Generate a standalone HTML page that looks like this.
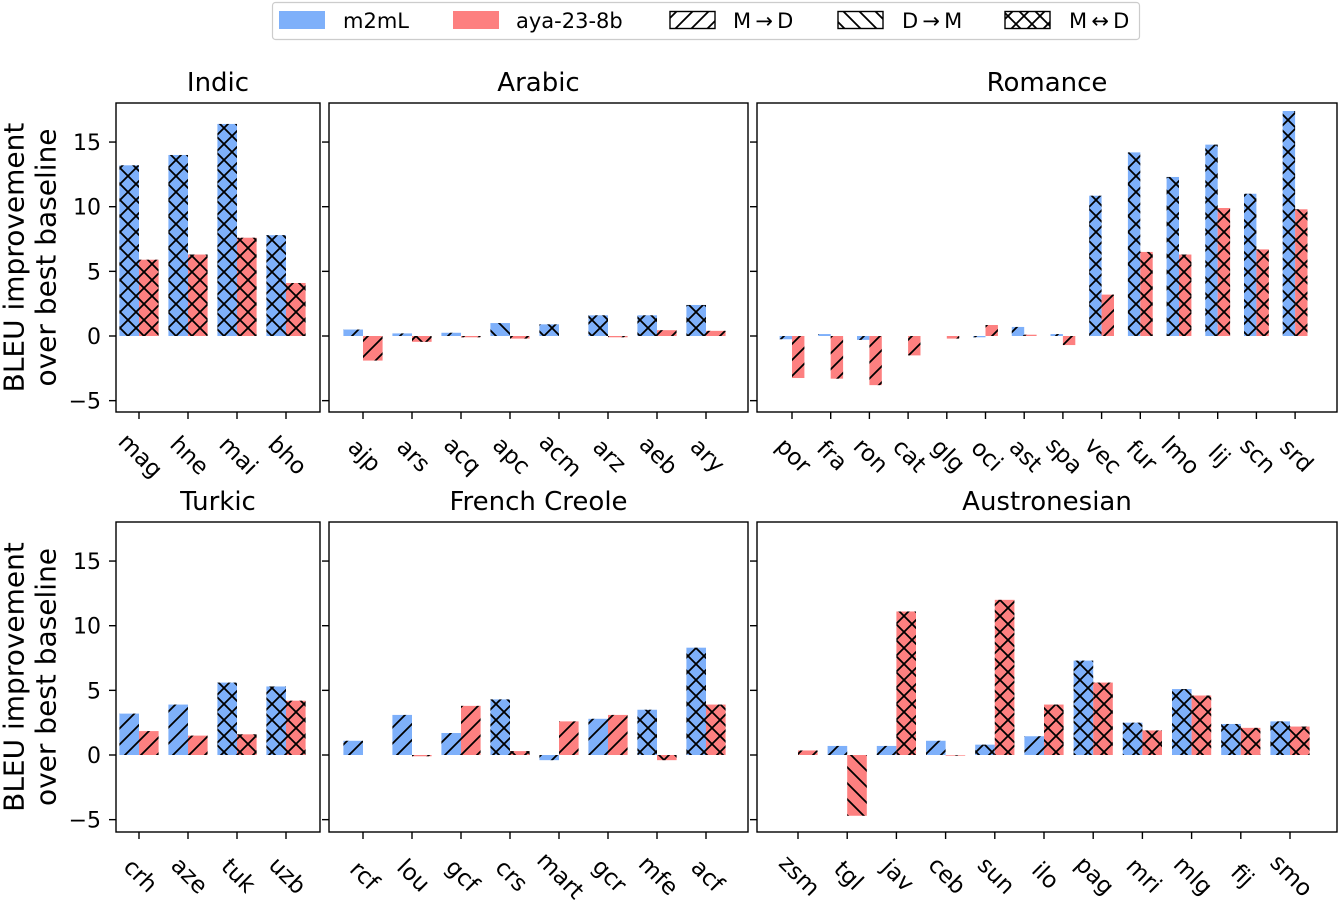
<!DOCTYPE html>
<html><head><meta charset="utf-8">
<style>
html,body{margin:0;padding:0;background:#fff;}
svg{display:block;font-family:"DejaVu Sans","Liberation Sans",sans-serif;}
</style></head>
<body>
<svg id="s" xmlns="http://www.w3.org/2000/svg" width="1341" height="901" viewBox="0 0 1341 901">
<defs>
<pattern id="pf" patternUnits="userSpaceOnUse" width="16" height="16">
<path d="M-2,18 L18,-2 M-10,10 L10,-10 M6,26 L26,6" stroke="#000" stroke-width="1.8"/>
</pattern>
<pattern id="pb" patternUnits="userSpaceOnUse" width="16" height="16">
<path d="M-2,-2 L18,18 M-10,6 L10,26 M6,-10 L26,10" stroke="#000" stroke-width="1.8"/>
</pattern>
<pattern id="px" patternUnits="userSpaceOnUse" width="16" height="16">
<path d="M-2,18 L18,-2 M-10,10 L10,-10 M6,26 L26,6 M-2,-2 L18,18 M-10,6 L10,26 M6,-10 L26,10" stroke="#000" stroke-width="1.8"/>
</pattern>
</defs>
<g id="g"></g>
</svg>
<script>
var B="#7eb0fa",R="#fd8080";
var panels=[
 {t:"Indic",x0:116,x1:320,row:0,c0:139,sp:49,bw:19.6,labels:["mag","hne","mai","bho"],
  d:[[13.2,"x",5.9,"x"],[14.0,"x",6.3,"x"],[16.4,"x",7.6,"x"],[7.8,"x",4.1,"x"]]},
 {t:"Arabic",x0:329,x1:748,row:0,c0:363,sp:49,bw:19.6,labels:["ajp","ars","acq","apc","acm","arz","aeb","ary"],
  d:[[0.5,"f",-1.9,"f"],[0.2,"f",-0.45,"x"],[0.25,"f",-0.1,"f"],[1.0,"b",-0.2,"f"],[0.9,"x",0,"x"],[1.6,"x",-0.1,"f"],[1.6,"x",0.45,"f"],[2.4,"x",0.4,"f"]]},
 {t:"Romance",x0:757,x1:1337,row:0,c0:792,sp:38.7,bw:12.4,labels:["por","fra","ron","cat","glg","oci","ast","spa","vec","fur","lmo","lij","scn","srd"],
  d:[[-0.25,"f",-3.25,"f"],[0.15,"f",-3.3,"f"],[-0.3,"f",-3.8,"f"],[0,"f",-1.5,"f"],[0,"f",-0.2,"f"],[-0.1,"f",0.85,"f"],[0.7,"f",0.1,"f"],[0.15,"f",-0.7,"f"],
     [10.85,"x",3.2,"f"],[14.2,"x",6.5,"x"],[12.3,"x",6.3,"x"],[14.8,"x",9.9,"x"],[11.0,"x",6.7,"x"],[17.4,"x",9.8,"x"]]},
 {t:"Turkic",x0:116,x1:320,row:1,c0:139,sp:49,bw:19.6,labels:["crh","aze","tuk","uzb"],
  d:[[3.2,"f",1.85,"f"],[3.9,"f",1.5,"f"],[5.6,"x",1.6,"x"],[5.3,"x",4.2,"x"]]},
 {t:"French Creole",x0:329,x1:748,row:1,c0:363,sp:49,bw:19.6,labels:["rcf","lou","gcf","crs","mart","gcr","mfe","acf"],
  d:[[1.1,"f",0,"f"],[3.1,"f",-0.1,"f"],[1.7,"f",3.8,"f"],[4.3,"x",0.3,"x"],[-0.4,"f",2.6,"f"],[2.8,"f",3.1,"f"],[3.5,"x",-0.4,"x"],[8.3,"x",3.9,"x"]]},
 {t:"Austronesian",x0:757,x1:1337,row:1,c0:798,sp:49.2,bw:19.6,labels:["zsm","tgl","jav","ceb","sun","ilo","pag","mri","mlg","fij","smo"],
  d:[[0,"f",0.35,"f"],[0.7,"f",-4.7,"b"],[0.7,"f",11.1,"x"],[1.1,"f",-0.05,"f"],[0.8,"x",12.0,"x"],[1.45,"f",3.9,"x"],[7.3,"x",5.6,"x"],[2.5,"x",1.9,"x"],[5.1,"x",4.6,"x"],[2.4,"x",2.1,"x"],[2.6,"x",2.2,"x"]]}
];
var rows=[{top:103,bot:412,zero:336},{top:522,bot:832,zero:755}];
var k=12.93, o="";
function rect(x,y,w,h,f){return '<rect x="'+x.toFixed(2)+'" y="'+y.toFixed(2)+'" width="'+w.toFixed(2)+'" height="'+h.toFixed(2)+'" fill="'+f+'"/>';}
function bar(x,w,v,col,h,z){
  if(Math.abs(v)<0.001)return "";
  var y=v>0?z-v*k:z, hh=Math.abs(v)*k;
  return rect(x,y,w,hh,col)+rect(x,y,w,hh,"url(#p"+h+")");
}
panels.forEach(function(p){
  var r=rows[p.row], bw=p.bw;
  o+='<text x="'+((p.x0+p.x1)/2)+'" y="'+(r.top-12)+'" font-size="26" text-anchor="middle">'+p.t+'</text>';
  p.d.forEach(function(d,i){
    var c=p.c0+i*p.sp;
    o+=bar(c-bw,bw,d[0],B,d[1],r.zero);
    o+=bar(c,bw,d[2],R,d[3],r.zero);
    o+='<line x1="'+c+'" y1="'+r.bot+'" x2="'+c+'" y2="'+(r.bot+7)+'" stroke="#000" stroke-width="1.4"/>';
    o+='<text transform="translate('+(c+1)+','+(r.bot+44)+') rotate(45)" font-size="23" text-anchor="middle" dominant-baseline="central">'+p.labels[i]+'</text>';
  });
  o+='<rect x="'+p.x0+'" y="'+r.top+'" width="'+(p.x1-p.x0)+'" height="'+(r.bot-r.top)+'" fill="none" stroke="#000" stroke-width="1.4"/>';
  [-5,0,5,10,15].forEach(function(v){
    var y=r.zero-v*k;
    o+='<line x1="'+(p.x0-7)+'" y1="'+y+'" x2="'+p.x0+'" y2="'+y+'" stroke="#000" stroke-width="1.4"/>';
    if(p.x0==116) o+='<text x="101" y="'+(y+8)+'" font-size="22" text-anchor="end">'+(v<0?'\u2212'+(-v):v)+'</text>';
  });
});
[0,1].forEach(function(i){
  var cy=(rows[i].top+rows[i].bot)/2;
  o+='<text transform="translate(14,'+cy+') rotate(-90)" font-size="28" text-anchor="middle" dominant-baseline="central">BLEU improvement</text>';
  o+='<text transform="translate(46,'+cy+') rotate(-90)" font-size="28" text-anchor="middle" dominant-baseline="central">over best baseline</text>';
});
// legend
o+='<rect x="272.5" y="2.5" width="867" height="37" rx="3" fill="#fff" stroke="#ccc" stroke-width="1.2"/>';
o+=rect(279,11,46,18,B)+'<text x="343" y="28" font-size="21">m2mL</text>';
o+=rect(453,11,46,18,R)+'<text x="516" y="28" font-size="21">aya-23-8b</text>';
[["f",670,"M\u2009\u2192\u2009D",733],["b",838,"D\u2009\u2192\u2009M",902],["x",1005,"M\u2009\u2194\u2009D",1069]].forEach(function(l){
  o+='<rect x="'+l[1]+'" y="11.5" width="45" height="17" fill="url(#p'+l[0]+')" stroke="#000" stroke-width="1.4"/>';
  o+='<text x="'+l[3]+'" y="28" font-size="21">'+l[2]+'</text>';
});
document.getElementById("g").innerHTML=o;
</script>
</body></html>
